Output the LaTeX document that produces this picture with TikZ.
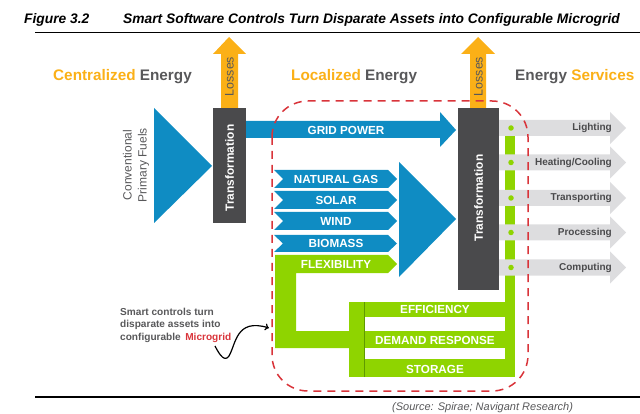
\documentclass[tikz,border=0pt]{standalone}
\usepackage{fontspec}
\setmainfont{Liberation Sans}
\usetikzlibrary{arrows.meta}
\definecolor{cblue}{HTML}{0F8CC3}
\definecolor{corange}{HTML}{FBB017}
\definecolor{cgreen}{HTML}{8FD400}
\definecolor{cdgreen}{HTML}{5F9A00}
\definecolor{cdark}{HTML}{4A4A4C}
\definecolor{clight}{HTML}{DDDDDF}
\definecolor{ctext}{HTML}{58585A}
\definecolor{cred}{HTML}{D9343A}
\tikzset{
  lab/.style={inner sep=0pt,font=\fontsize{#1}{#1}\selectfont\bfseries},
  lab/.default=11,
  whitelab/.style={lab=#1,text=white},
  whitelab/.default=11.7,
  head/.style={lab=15.3,text=ctext},
  svc/.style={lab=10,text=cdark,anchor=east},
  xform/.style={fill=cdark,draw=none,inner sep=0pt},
  xformtext/.style={whitelab=11.9,rotate=90},
  loss/.style={inner sep=0pt,rotate=90,text=ctext,font=\fontsize{12.4}{12.4}\selectfont},
  chev/.style={fill=cblue},
  dot/.style={circle,fill=cgreen,inner sep=0pt,minimum size=5.5pt},
  graya/.style={fill=clight},
  titlefont/.style={inner sep=0pt,anchor=west,font=\fontsize{13.8}{13.8}\selectfont\bfseries\itshape},
}
\newcommand{\chevron}[3]{%
  \fill[#1] (274,#2) -- (388,#2) -- (397,{(#2+#3)/2}) -- (388,#3) -- (274,#3) -- (283,{(#2+#3)/2}) -- cycle;}
\newcommand{\grayarrow}[1]{%
  \fill[graya] (499,#1-8) -- (610,#1-8) -- (610,#1-16) -- (626,#1) -- (610,#1+16) -- (610,#1+8) -- (499,#1+8) -- cycle;}
\begin{document}
\begin{tikzpicture}[x=1pt,y=-1pt]
\useasboundingbox (0,0) rectangle (640,414);
% header
\node[titlefont] (figno) at (24,20) {Figure 3.2};
\node[titlefont] (title) at (123,20) {Smart Software Controls Turn Disparate Assets into Configurable Microgrid};
\draw[line width=1.1pt] (35,32.5) -- (640,32.5);
\draw[line width=1.1pt] (35,397) -- (640,397);
\node[inner sep=0pt,anchor=west,text=ctext,font=\fontsize{11}{11}\selectfont\itshape] (source) at (392,408) {(Source: Spirae; Navigant Research)};
% section heads
\node[head,anchor=west] (hcentral) at (53,77) {\textcolor{corange}{Centralized} Energy};
\node[head,anchor=west] (hlocal) at (291,77) {\textcolor{corange}{Localized} Energy};
\node[head,anchor=west] (hservices) at (515,77) {Energy \textcolor{corange}{Services}};
% left side
\fill[cblue] (154,108) -- (212,166) -- (154,223) -- cycle;
\node[inner sep=0pt,align=center,rotate=90,text=ctext,font=\fontsize{12}{15}\selectfont] (fuels) at (136,165) {Conventional\\Primary Fuels};
\fill[corange] (221,108) -- (221,54) -- (213,54) -- (229,37) -- (246,54) -- (238,54) -- (238,108) -- cycle;
\node[loss] (loss1) at (229.5,76.5) {Losses};
% second losses
\fill[corange] (470,108) -- (470,54) -- (461,54) -- (478,37) -- (495,54) -- (486,54) -- (486,108) -- cycle;
\node[loss] (loss2) at (478.5,76.5) {Losses};
% grid power
\fill[cblue] (246,121) -- (440,121) -- (440,112) -- (456,130) -- (440,147) -- (440,138) -- (246,138) -- cycle;
\node[whitelab] (grid) at (346,130) {GRID POWER};
% transformation boxes
\node[xform,minimum width=33pt,minimum height=115pt] (t1) at (229.5,165.5) {};
\node[xformtext] at (229.5,168) {Transformation};
\node[xform,minimum width=41pt,minimum height=182pt] (t2) at (478.5,199) {};
\node[xformtext] at (478.5,198) {Transformation};
% green network
\fill[cgreen] (505,125) rectangle (515,377);
\fill[cgreen] (349,302) rectangle (515,377);
\fill[white] (364,317) rectangle (505,331);
\fill[white] (364,348) rectangle (505,359);
\draw[cdgreen,line width=0.7pt] (364,302) -- (364,377);
\fill[cgreen] (275,255) -- (388,255) -- (397,264) -- (388,273) -- (296,273) -- (296,331) -- (349,331) -- (349,348) -- (275,348) -- cycle;
\node[whitelab] (flex) at (336,264) {FLEXIBILITY};
\node[whitelab] (eff) at (435,309.5) {EFFICIENCY};
\node[whitelab] (dr) at (435,340) {DEMAND RESPONSE};
\node[whitelab] (stor) at (435,369) {STORAGE};
% chevrons
\chevron{chev}{170}{188}
\chevron{chev}{191}{209}
\chevron{chev}{212}{230}
\chevron{chev}{235}{252}
\node[whitelab] (gas) at (336,179) {NATURAL GAS};
\node[whitelab] (solar) at (336,200) {SOLAR};
\node[whitelab] (wind) at (336,221) {WIND};
\node[whitelab] (bio) at (336,243.5) {BIOMASS};
\fill[cblue] (399,162) -- (456,219) -- (399,277) -- cycle;
% services
\grayarrow{128}
\grayarrow{162.5}
\grayarrow{198}
\grayarrow{232.5}
\grayarrow{267.5}
\node[dot] (d1) at (511,128) {};
\node[dot] (d2) at (511,162.5) {};
\node[dot] (d3) at (511,198) {};
\node[dot] (d4) at (511,232.5) {};
\node[dot] (d5) at (511,267.5) {};
\node[svc] (s1) at (612,128) {Lighting};
\node[svc] (s2) at (612,162.5) {Heating/Cooling};
\node[svc] (s3) at (612,198) {Transporting};
\node[svc] (s4) at (612,232.5) {Processing};
\node[svc] (s5) at (612,267.5) {Computing};
% annotation
\node[inner sep=0pt,anchor=west,align=left,text=ctext,font=\fontsize{10.1}{12.5}\selectfont\bfseries] (note) at (120,325) {Smart controls turn\\disparate assets into\\configurable \,\textcolor{cred}{Microgrid}};
\coordinate (curvestart) at (215,346);
\coordinate (curveend) at (269,328);
\draw[line width=1.2pt,-{To[length=4pt,width=7pt]}] (curvestart) .. controls (220,356) and (225,362) .. (229,356) .. controls (236,344) and (236,318) .. (curveend);
% microgrid boundary
\draw[cred,line width=1.5pt,dash pattern=on 8pt off 6pt,rounded corners=36pt] (272,101) rectangle (528,391);
\end{tikzpicture}
\end{document}
